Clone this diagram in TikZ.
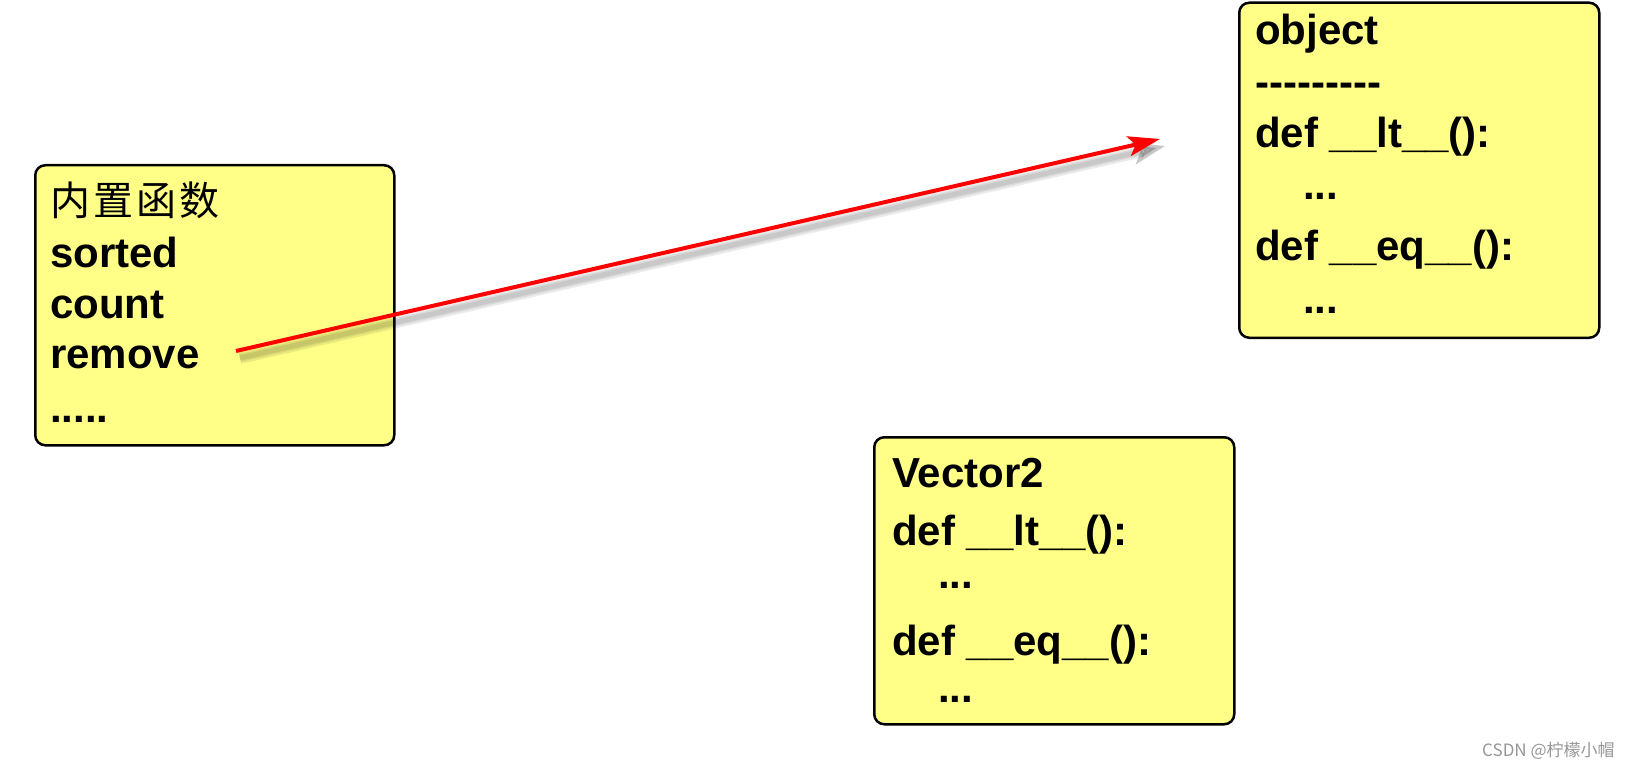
\documentclass[tikz,border=0pt]{standalone}
\usepackage{fontspec}
\setmainfont{Liberation Sans}
\newfontfamily\cjk{Noto Sans CJK SC}
\usetikzlibrary{arrows.meta}
\definecolor{boxyellow}{RGB}{255,255,136}
\definecolor{wmgray}{RGB}{150,150,150}
\begin{document}
\begin{tikzpicture}[x=1pt,y=-1pt,
  box/.style={draw=black, line width=2.5pt, fill=boxyellow, rounded corners=10pt, anchor=north west, inner sep=0pt},
  txt/.style={anchor=base west, inner sep=0pt, font=\fontsize{42}{50}\selectfont\bfseries},
  cjktxt/.style={anchor=base west, inner sep=0pt, font=\cjk\addfontfeatures{LetterSpace=8}\fontsize{40}{48}\selectfont},
  redarrow/.style={draw=red, line width=4pt, -{Stealth[length=32pt,width=20pt,inset=7pt]}},
  shadowarrow/.style={draw=black, opacity=0.08, line width=#1, -{Stealth[length=32pt,width=22pt,inset=7pt]}},
  wm/.style={anchor=base west, inner sep=0pt, text=wmgray, font=\cjk\fontsize{17}{20}\selectfont}]
\useasboundingbox (0,0) rectangle (1632,770);

% boxes
\node[box, minimum width=359pt, minimum height=280pt] (builtin) at (34,164) {};
\node[box, minimum width=360pt, minimum height=335pt] (object) at (1238,1.5) {};
\node[box, minimum width=360pt, minimum height=287pt] (vector) at (873,436) {};

% builtin box text
\node[cjktxt] (b0) at (50,215) {内置函数};
\node[txt] (b1) at (50,267) {sorted};
\node[txt] (b2) at (50,318) {count};
\node[txt] (b3) at (50,368) {remove};
\node[txt] (b4) at (50,422) {.....};

% object box text
\node[txt] (o0) at (1255,45) {object};
\node[txt] (o1) at (1255,97) {-{}-{}-{}-{}-{}-{}-{}-{}-};
\node[txt] (o2) at (1255,148) {def \_\_lt\_\_():};
\node[txt] (o3) at (1303,200) {...};
\node[txt] (o4) at (1255,260) {def \_\_eq\_\_():};
\node[txt] (o5) at (1303,313) {...};

% Vector2 box text
\node[txt] (v0) at (892,487) {Vector2};
\node[txt] (v1) at (892,545) {def \_\_lt\_\_():};
\node[txt] (v2) at (938,588) {...};
\node[txt] (v3) at (892,655) {def \_\_eq\_\_():};
\node[txt] (v4) at (938,702) {...};

% arrow
\coordinate (a0) at (236,351);
\coordinate (a1) at (1160,139);
\coordinate (s0) at (240,358);
\coordinate (s1) at (1165,146);
\draw[shadowarrow=12pt] (s0) -- (s1);
\draw[shadowarrow=8pt] (s0) -- (s1);
\draw[shadowarrow=5pt] (s0) -- (s1);
\draw[redarrow] (a0) -- (a1);

% watermark
\node[wm] (mark) at (1482,756) {CSDN @柠檬小帽};
\end{tikzpicture}
\end{document}
